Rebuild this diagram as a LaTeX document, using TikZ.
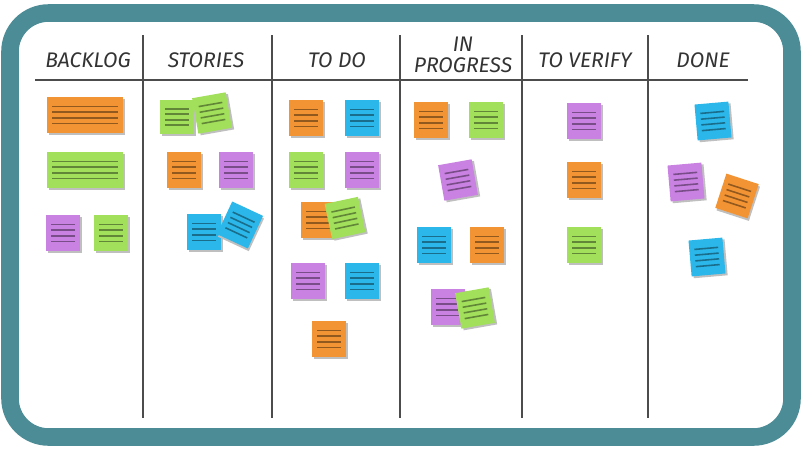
\documentclass[tikz,border=0pt]{standalone}
\usepackage{fontspec}
\setmainfont{Fira Sans}
\begin{document}
\begin{tikzpicture}[x=0.02cm,y=-0.02cm,
  colline/.style={line width=1.6pt,draw=black!70},
  head/.style={font=\itshape\large, text=black!80, align=center}]
\definecolor{teal1}{HTML}{4C8C97}
\definecolor{nor}{HTML}{F39434}
\definecolor{ngr}{HTML}{A2E05C}
\definecolor{npu}{HTML}{C981E2}
\definecolor{nbl}{HTML}{2BB7E9}
\useasboundingbox (0,0) rectangle (802,450);
\fill[white] (0,0) rectangle (802,450);
\draw[teal1,line width=10pt,rounded corners=22pt,fill=white] (10,13) rectangle (792,437);
% header
\draw[colline] (35,80) -- (748,80);
\foreach \x in {143,272,400,522,648} \draw[colline] (\x,35) -- (\x,418);
\node[head] at (88,60) {BACKLOG};
\node[head] at (206,60) {STORIES};
\node[head] at (337,60) {TO DO};
\node[head,font=\itshape\large\linespread{0.85}\selectfont] at (463,55) {IN\\PROGRESS};
\node[head] at (585,60) {TO VERIFY};
\node[head] at (703,60) {DONE};
\newcommand\stk[6]{% x y color rot w h
  \begin{scope}[shift={(#1,#2)},rotate=#4]
   \fill[black!25] (-#5/2+2,-#6/2+2) rectangle (#5/2+2,#6/2+2);
   \fill[#3] (-#5/2,-#6/2) rectangle (#5/2,#6/2);
   \foreach \yy in {-0.24,-0.08,0.08,0.24}
     \draw[#3!60!black,line width=0.9pt] (-#5/2+5,#6*\yy) -- (#5/2-5,#6*\yy);
  \end{scope}}
% backlog
\stk{85}{115}{nor}{0}{76}{36}
\stk{85}{170}{ngr}{0}{76}{36}
\stk{63}{233}{npu}{0}{34}{36}
\stk{111}{233}{ngr}{0}{34}{36}
% stories
\stk{177}{117}{ngr}{0}{34}{34}
\stk{212}{113}{ngr}{10}{34}{36}
\stk{184}{170}{nor}{0}{34}{36}
\stk{236}{170}{npu}{0}{34}{36}
\stk{204}{232}{nbl}{0}{34}{36}
\stk{240}{225}{nbl}{-25}{34}{36}
% to do
\stk{306}{118}{nor}{0}{34}{36}
\stk{362}{118}{nbl}{0}{34}{36}
\stk{306}{170}{ngr}{0}{34}{36}
\stk{362}{170}{npu}{0}{34}{36}
\stk{318}{220}{nor}{0}{34}{36}
\stk{345}{218}{ngr}{12}{34}{36}
\stk{308}{281}{npu}{0}{34}{36}
\stk{362}{281}{nbl}{0}{34}{36}
\stk{329}{339}{nor}{0}{34}{36}
% in progress
\stk{431}{120}{nor}{0}{34}{36}
\stk{486}{120}{ngr}{0}{34}{36}
\stk{458}{180}{npu}{10}{34}{36}
\stk{434}{245}{nbl}{0}{34}{36}
\stk{487}{245}{nor}{0}{34}{36}
\stk{448}{307}{npu}{0}{34}{36}
\stk{475}{308}{ngr}{10}{34}{36}
% to verify
\stk{584}{121}{npu}{0}{34}{36}
\stk{584}{180}{nor}{0}{34}{36}
\stk{584}{245}{ngr}{0}{34}{36}
% done
\stk{713}{121}{nbl}{5}{34}{36}
\stk{686}{182}{npu}{5}{34}{36}
\stk{737}{196}{nor}{-18}{34}{36}
\stk{707}{257}{nbl}{5}{34}{36}
\end{tikzpicture}
\end{document}
